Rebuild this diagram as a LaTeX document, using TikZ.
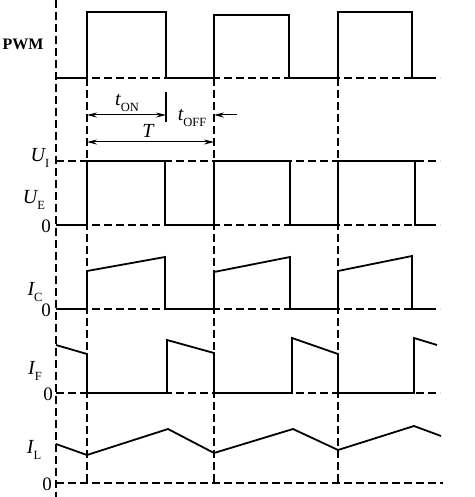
\documentclass[tikz,border=0pt]{standalone}
\usepackage{fontspec}
\setmainfont{Liberation Serif}
\usetikzlibrary{arrows.meta}
\newcommand\sbx[1]{\raisebox{-0.3em}{\upshape\fontsize{12.5}{12.5}\selectfont #1}}
\begin{document}
\begin{tikzpicture}[x=1pt,y=-1pt,
  wave/.style={line width=1.8pt, line join=miter},
  guide/.style={line width=1.3pt, dash pattern=on 8pt off 4pt},
  lbl/.style={font=\fontsize{20}{20}\selectfont\itshape, inner sep=0pt},
  zero/.style={font=\fontsize{19}{19}\selectfont, inner sep=0pt},
  dimline/.style={line width=1pt, {Stealth[length=10pt,width=5pt]}-{Stealth[length=10pt,width=5pt]}},
  onearrow/.style={line width=1pt, -{Stealth[length=10pt,width=5pt]}}]
\useasboundingbox (0,0) rectangle (474,497);

% guides
\draw[guide] (56,0) -- (56,497);
\foreach \x in {87,214,338} \draw[guide] (\x,78) -- (\x,483);
\foreach \y in {78,161,225,309,393} \draw[guide] (56,\y) -- (440,\y);
\draw[guide] (56,483) -- (443,483);

% PWM
\draw[wave] (56,78) -- (87,78) -- (87,12) -- (166,12) -- (166,78) -- (214,78) -- (214,15) -- (289,15) -- (289,78) -- (338,78) -- (338,12) -- (412,12) -- (412,78) -- (433,78);
% U_E
\draw[wave] (56,225) -- (87,225) -- (87,161) -- (165,161) -- (165,225) -- (214,225) -- (214,161) -- (290,161) -- (290,225) -- (338,225) -- (338,161) -- (415,161) -- (415,225) -- (430,225);
% I_C
\draw[wave] (56,309) -- (87,309) -- (87,271) -- (165,257) -- (165,309) -- (214,309) -- (214,272) -- (290,257) -- (290,309) -- (338,309) -- (338,271) -- (412,256) -- (412,309) -- (430,309);
% I_F
\draw[wave] (56,345) -- (87,354) -- (87,393) -- (167,393) -- (167,340) -- (214,353) -- (214,393) -- (292,393) -- (292,338) -- (338,354) -- (338,393) -- (414,393) -- (414,338) -- (437,345);
% I_L
\draw[wave] (56,444) -- (87,455) -- (168,429) -- (214,453) -- (293,429) -- (338,450) -- (414,426) -- (441,436);

% timing annotations
\coordinate (tick1) at (166,92);
\coordinate (tick2) at (166,122);
\draw[line width=1.3pt] (tick1) -- (tick2);
\coordinate (on1) at (87,115);
\coordinate (on2) at (166,115);
\draw[dimline] (on1) -- (on2);
\coordinate (off1) at (237,115);
\coordinate (off2) at (214,115);
\draw[onearrow] (off1) -- (off2);
\coordinate (T1) at (87,142);
\coordinate (T2) at (214,142);
\draw[dimline] (T1) -- (T2);

% labels
\node[inner sep=0pt, font=\fontsize{16}{16}\selectfont\bfseries] (pwm) at (23,44) {PWM};
\node[lbl] (ton) at (127,103) {t\sbx{ON}};
\node[lbl] (toff) at (192,118) {t\sbx{OFF}};
\node[lbl] (T) at (148,131) {T};
\node[lbl] (ui) at (40,158) {U\sbx{I}};
\node[lbl] (ue) at (34,200) {U\sbx{E}};
\node[lbl] (ic) at (35,292) {I\sbx{C}};
\node[lbl] (if) at (35,371) {I\sbx{F}};
\node[lbl] (il) at (34,450) {I\sbx{L}};
\node[zero] (z1) at (46,226) {0};
\node[zero] (z2) at (46,310) {0};
\node[zero] (z3) at (48,394) {0};
\node[zero] (z4) at (47,484) {0};
\end{tikzpicture}
\end{document}
